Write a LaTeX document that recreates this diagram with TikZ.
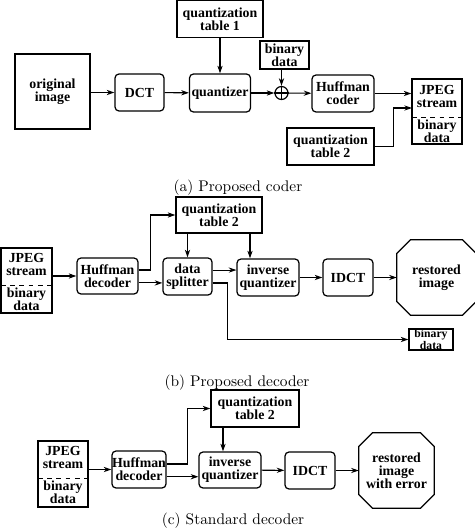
\documentclass[tikz,border=0pt]{standalone}
\usepackage{fontspec}
\newfontfamily\bxf{Liberation Serif}
\usetikzlibrary{arrows.meta}
\newcommand{\bxfont}{\bxf\bfseries\fontsize{9}{8.6}\selectfont}
\newcommand{\octo}[2]{\draw[line width=0.8pt] ([xshift=#2]#1.north west) -- ([xshift=-#2]#1.north east) -- ([yshift=-#2]#1.north east) -- ([yshift=#2]#1.south east) -- ([xshift=-#2]#1.south east) -- ([xshift=#2]#1.south west) -- ([yshift=#2]#1.south west) -- ([yshift=-#2]#1.north west) -- cycle;}
\begin{document}
\begin{tikzpicture}[x=0.65pt,y=-0.65pt,
  blk/.style={draw, line width=0.8pt, inner sep=0pt, align=center, font=\bxfont},
  rbx/.style={blk, rounded corners=2.6pt},
  sz/.style 2 args={minimum width=#1*0.65pt, minimum height=#2*0.65pt},
  txt/.style={inner sep=0pt, align=center, font=\bxfont},
  arr/.style={-{Stealth[length=5pt,width=3.4pt]}, line width=0.7pt},
  captxt/.style={font=\fontsize{10}{12}\selectfont, anchor=base, inner sep=0pt}
]
\useasboundingbox (0,0) rectangle (474,530);
% ---------------- (a) proposed coder
\node[blk, sz={75}{75}] (orig) at (52.5,91.5) {original\\image};
\node[rbx, sz={49}{37}] (dct) at (139.5,92.5) {DCT};
\node[rbx, sz={61}{38}] (quant) at (220,93) {quantizer};
\node[blk, sz={86}{37}] (qt1) at (220,19) {quantization\\table 1};
\node[circle, draw, line width=0.8pt, minimum size=13*0.65pt, inner sep=0pt] (plus) at (281.5,93) {};
\draw[line width=0.8pt] (plus.north) -- (plus.south) (plus.west) -- (plus.east);
\node[blk, sz={49}{28}] (bda) at (284.5,55) {binary\\data};
\node[rbx, sz={62}{37}] (huffc) at (343,93.5) {Huffman\\coder};
\node[blk, sz={50}{65}] (jpa) at (437,111.5) {};
\draw[dashed, line width=0.6pt] (412,117) -- (462,117);
\node[txt] (jpat) at (437,96.5) {JPEG\\stream};
\node[txt] (jpab) at (437,131) {binary\\data};
\node[blk, sz={87}{37}] (qt2a) at (330.5,146.5) {quantization\\table 2};
\coordinate (ja2) at (412,108);
\draw[arr] (orig.east |- dct.west) -- (dct.west);
\draw[arr] (dct) -- (quant);
\draw[arr] (qt1) -- (quant);
\draw[arr] (quant) -- (plus);
\draw[arr] (bda.south -| plus.north) -- (plus.north);
\draw[arr] (plus) -- (huffc);
\draw[arr] (huffc.east) -- (huffc.east -| jpa.west);
\draw[arr] (qt2a.east) -- ++(19,0) |- (ja2);
\node[captxt] (capa) at (238,191) {(a) Proposed coder};
% ---------------- (b) proposed decoder
\node[blk, sz={51}{65}] (jpb) at (26.5,280.5) {};
\draw[dashed, line width=0.6pt] (1,285) -- (52,285);
\node[txt] (jpbt) at (26.5,264.5) {JPEG\\stream};
\node[txt] (jpbb) at (26.5,299) {binary\\data};
\node[rbx, sz={61}{36}] (hdb) at (107.5,276) {Huffman\\decoder};
\node[blk, sz={86}{36}] (qt2b) at (219,215) {quantization\\table 2};
\node[rbx, sz={49}{37}] (spl) at (187.5,276.5) {data\\splitter};
\node[rbx, sz={62}{37}] (iqb) at (268,277.5) {inverse\\quantizer};
\node[rbx, sz={50}{37}] (idb) at (348,277.5) {IDCT};
\node[txt, sz={79}{75}] (rsb) at (436.5,277.5) {restored\\image};
\octo{rsb}{9pt}
\node[blk, sz={44}{21}, font=\bxf\bfseries\fontsize{7.6}{6.4}\selectfont] (bdb) at (431,339.5) {binary\\data};
\draw[arr] (jpb.east |- hdb.west) -- (hdb.west);
\draw[arr] ([yshift=3.9pt]hdb.east) -- ++(12,0) |- (qt2b.west);
\draw[arr] ([yshift=-4.5pt]hdb.east) -- ([yshift=-4.5pt]hdb.east -| spl.west);
\draw[arr] (qt2b.south -| spl.north) -- (spl.north);
\draw[arr] ([xshift=-11.7pt]iqb.north |- qt2b.south) -- ([xshift=-11.7pt]iqb.north);
\draw[arr] ([yshift=4.2pt]spl.east) -- ([yshift=4.2pt]spl.east -| iqb.west);
\draw[arr] (iqb) -- (idb);
\draw[arr] (idb) -- (rsb.west);
\draw[arr] ([yshift=-4.2pt]spl.east) -- ++(15,0) |- (bdb.west);
\node[captxt] (capb) at (237,386) {(b) Proposed decoder};
% ---------------- (c) standard decoder
\node[blk, sz={50}{66}] (jpc) at (63,474) {};
\draw[dashed, line width=0.6pt] (38,478) -- (88,478);
\node[txt] (jpct) at (63,457.5) {JPEG\\stream};
\node[txt] (jpcb) at (63,492.5) {binary\\data};
\node[rbx, sz={54}{37}] (hdc) at (139,469.5) {Huffman\\decoder};
\node[blk, sz={88}{37}] (qt2c) at (255,408.5) {quantization\\table 2};
\node[rbx, sz={62}{36}] (iqc) at (230,470) {inverse\\quantizer};
\node[rbx, sz={50}{37}] (idc) at (310,470.5) {IDCT};
\node[txt, sz={75}{75}] (rsc) at (396.5,470.5) {restored\\image\\with error};
\octo{rsc}{9pt}
\draw[arr] (jpc.east |- hdc.west) -- (hdc.west);
\draw[arr] ([yshift=3.6pt]hdc.east) -- ++(21,0) |- (qt2c.west);
\draw[arr] ([yshift=-4.7pt]hdc.east) -- ([yshift=-4.7pt]hdc.east -| iqc.west);
\draw[arr] ([xshift=-4.55pt]iqc.north |- qt2c.south) -- ([xshift=-4.55pt]iqc.north);
\draw[arr] (iqc) -- (idc);
\draw[arr] (idc) -- (rsc.west);
\node[captxt] (capc) at (233,524.5) {(c) Standard decoder};
\end{tikzpicture}
\end{document}
